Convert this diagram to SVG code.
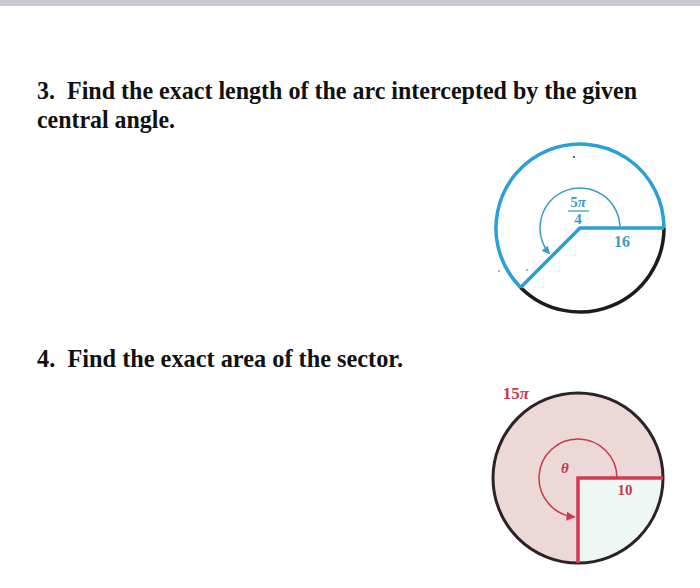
<svg xmlns="http://www.w3.org/2000/svg" width="700" height="588" viewBox="0 0 700 588">
<style>
.q{font-family:"Liberation Serif","Times New Roman",serif;font-weight:bold;font-size:25px;fill:#111}
.bl{font-family:"Liberation Serif","Times New Roman",serif;font-weight:bold;fill:#3a9cc4;text-anchor:middle}
.rd{font-family:"Liberation Serif","Times New Roman",serif;font-weight:bold;fill:#c9394f;text-anchor:middle}
.it{font-style:italic}
</style>
<defs>
<marker id="ab" viewBox="0 0 10 10" refX="9" refY="5" markerWidth="8" markerHeight="8" markerUnits="userSpaceOnUse" orient="auto"><path d="M0,0 L10,5 L0,10 Z" fill="#3a9cc4"/></marker>
<marker id="ar" viewBox="0 0 10 10" refX="9" refY="5" markerWidth="9" markerHeight="9" markerUnits="userSpaceOnUse" orient="auto"><path d="M0,0 L10,5 L0,10 Z" fill="#c9394f"/></marker>
</defs>
<rect x="0" y="0" width="700" height="588" fill="#fff"/>
<rect x="0" y="0" width="700" height="6" fill="#c6cad0"/>
<g id="text">
<text class="q" x="37" y="99" textLength="600" lengthAdjust="spacingAndGlyphs" xml:space="preserve">3.  Find the exact length of the arc intercepted by the given</text>
<text class="q" x="37" y="128" textLength="138" lengthAdjust="spacingAndGlyphs">central angle.</text>
<text class="q" x="37" y="367" textLength="366" lengthAdjust="spacingAndGlyphs" xml:space="preserve">4.  Find the exact area of the sector.</text>
</g>
<g id="circle1">
<path d="M664,228 A84,84 0 1 0 520.6,287.4" fill="none" stroke="#2a9fd8" stroke-width="3.5"/>
<path d="M520.6,287.4 A84,84 0 0 0 664,228" fill="none" stroke="#1c1c1c" stroke-width="3.5"/>
<path d="M664,228 L580,228 L520.6,287.4" fill="none" stroke="#2a9fd8" stroke-width="3.5"/>
<path d="M620,228 A40,40 0 1 0 549.4,253.7" fill="none" stroke="#3a9cc4" stroke-width="1.5" marker-end="url(#ab)"/>
<text class="bl" x="578" y="207" font-size="15">5<tspan class="it">π</tspan></text>
<line x1="568" y1="211" x2="589" y2="211" stroke="#3a9cc4" stroke-width="1.3"/>
<text class="bl" x="578" y="224" font-size="15">4</text>
<text class="bl" x="622" y="247" font-size="16">16</text>
<circle cx="574" cy="157" r="1" fill="#333"/>
<circle cx="527" cy="270" r="0.8" fill="#555"/>
<circle cx="499" cy="271" r="0.8" fill="#555"/>
</g>
<g id="circle2">
<path d="M578,478 L663,478 A85,85 0 1 0 578,563 Z" fill="#ecd8d6"/>
<path d="M578,478 L663,478 A85,85 0 0 1 578,563 Z" fill="#eef7f3"/>
<circle cx="578" cy="478" r="85" fill="none" stroke="#2b2326" stroke-width="3"/>
<path d="M663,478 L578,478 L578,563" fill="none" stroke="#d4394f" stroke-width="3.5"/>
<path d="M617,478 A39,39 0 1 0 574.6,516.9" fill="none" stroke="#c9394f" stroke-width="1.5" marker-end="url(#ar)"/>
<text class="rd it" x="565" y="473" font-size="15">θ</text>
<text class="rd" x="625" y="495" font-size="15">10</text>
<text class="rd" x="516" y="399" font-size="17">15<tspan class="it">π</tspan></text>
</g>
</svg>
